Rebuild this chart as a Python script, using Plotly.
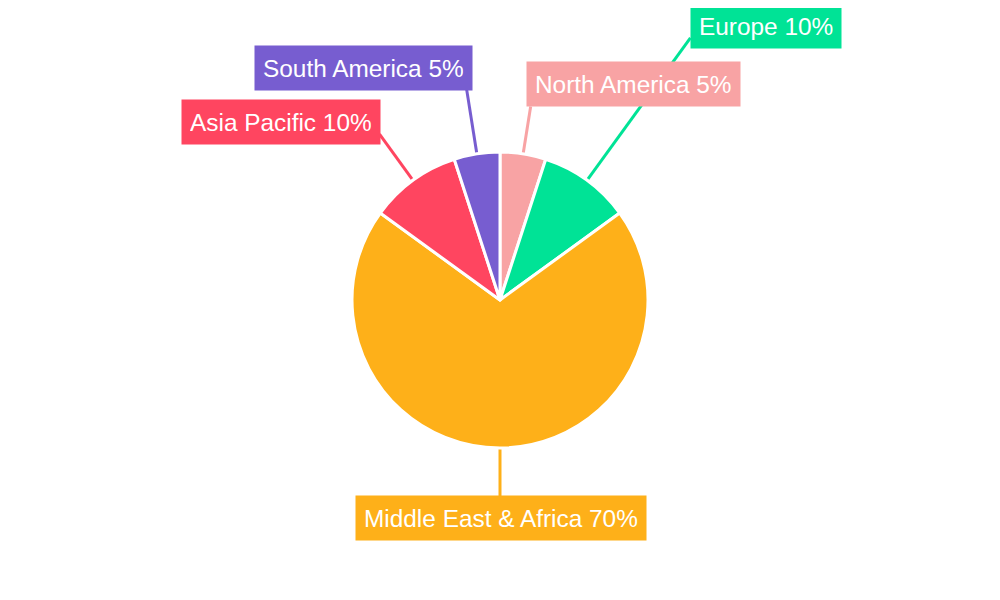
import math
import plotly.graph_objects as go

regions = ["North America", "Europe", "Middle East & Africa", "Asia Pacific", "South America"]
shares = [5, 10, 70, 10, 5]
colors = ["#F8A3A4", "#00E396", "#FEB019", "#FF4560", "#775DD0"]

W, H = 1000, 600
OFF = 8  # page body margin offset
CX, CY, R = 500 - OFF, 300 - OFF, 148
# leader line end distance (px from centre) and label box centres (px, screen)
lead_len = [196, 324, 196, 205, 213]
box_centres = [(633.5, 84), (766, 26), (501, 518), (281, 122), (363, 68)]

fig = go.Figure(go.Pie(
    labels=regions, values=shares, sort=False, direction="clockwise", rotation=0,
    marker=dict(colors=colors, line=dict(color="white", width=3)),
    textinfo="none", hoverinfo="label+percent", showlegend=False,
    domain=dict(x=[(CX - R) / W, (CX + R) / W], y=[(H - CY - R) / H, (H - CY + R) / H]),
))

total = sum(shares)
cum = 0
shapes, annotations = [], []
for name, v, col, L, (bx, by) in zip(regions, shares, colors, lead_len, box_centres):
    mid = (cum + v / 2) / total * 2 * math.pi
    cum += v
    sx, sy = CX + R * math.sin(mid), CY - R * math.cos(mid)
    ex, ey = CX + L * math.sin(mid), CY - L * math.cos(mid)
    shapes.append(dict(type="line", xref="paper", yref="paper",
                       x0=sx / W, y0=1 - sy / H, x1=ex / W, y1=1 - ey / H,
                       line=dict(color=col, width=3), layer="below"))
    bx, by = bx - OFF, by - OFF
    annotations.append(dict(x=bx / W, y=1 - by / H, xref="paper", yref="paper",
                            text=f"{name} {round(v / total * 100)}%", showarrow=False,
                            font=dict(family="Liberation Sans, Arial, sans-serif", size=24.4, color="white"),
                            bgcolor=col, borderpad=8, height=28, xanchor="center", yanchor="middle"))

fig.update_layout(width=W, height=H, margin=dict(l=0, r=0, t=0, b=0),
                  paper_bgcolor="white", plot_bgcolor="white",
                  shapes=shapes, annotations=annotations)
fig.write_html("out.html")
